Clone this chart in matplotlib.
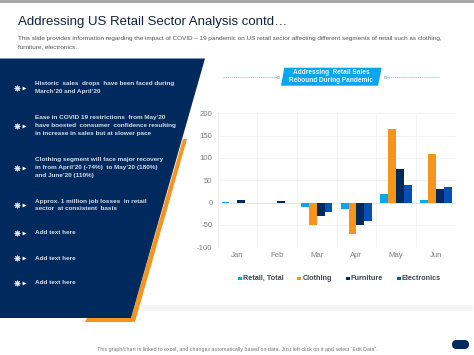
import numpy as np
import matplotlib
matplotlib.use("Agg")
import matplotlib.pyplot as plt
from matplotlib.patches import Polygon, Rectangle, FancyBboxPatch

plt.rcParams['font.family'] = ['Liberation Sans', 'DejaVu Sans']
plt.rcParams['axes.unicode_minus'] = False

months = ['Jan', 'Feb', 'Mar', 'Apr', 'May', 'Jun']
retail_total = [1, 0, -10, -15, 20, 5]
clothing = [0, 0, -50, -70, 165, 110]
furniture = [5, 3, -30, -50, 75, 30]
electronics = [0, 0, -20, -40, 40, 35]
series_names = ['Retail, Total', 'Clothing', 'Furniture', 'Electronics']
series_colors = ['#0AA5EE', '#F7941E', '#002A5E', '#0450B4']
y_ticks = [-100, -50, 0, 50, 100, 150, 200]

title = 'Addressing US Retail Sector Analysis contd…'
subtitle = ['This slide provides information regarding the impact of COVID – 19 pandemic on US retail sector affecting different segments of retail such as clothing,',
            'furniture, electronics.']
bullets = [
    (['Historic  sales  drops  have been faced during', 'March’20 and April’20'], 87.5),
    (['Ease in COVID 19 restrictions  from May’20', 'have boosted  consumer  confidence resulting', 'in increase in sales but at slower pace'], 125.5),
    (['Clothing segment will face major recovery', 'in from April’20 (-74%)  to May’20 (180%)', 'and June’20 (110%)'], 168),
    (['Approx. 1 million job losses  in retail', 'sector  at consistent  basis'], 205),
    (['Add text here'], 233),
    (['Add text here'], 258),
    (['Add text here'], 283),
]
footer = 'This graph/chart is linked to excel, and changes automatically based on data. Just left click on it and select “Edit Data”.'

W, H = 474, 355
fig = plt.figure(figsize=(W / 100, H / 100), dpi=100, facecolor='white')

bg = fig.add_axes([0, 0, 1, 1])
bg.set_xlim(0, W)
bg.set_ylim(H, 0)
bg.axis('off')

NAVY = '#002A5E'
bg.add_patch(Rectangle((0, 0), W, 2.5, color='#A6A6A6', lw=0))
bg.add_patch(Rectangle((142, 304.5), W - 143, 6.5, color='#F5F5F5', lw=0))
bg.add_patch(Polygon([(183, 139), (187, 139), (135, 322), (85, 322), (87, 318), (131, 318)], color='#F7941E', lw=0))
bg.add_patch(Polygon([(0, 58.5), (205, 58.5), (131, 318), (0, 318)], color=NAVY, lw=0))

bg.text(18, 21.5, title, fontsize=9.5, color='#14233C', va='center', ha='left')
for i, line in enumerate(subtitle):
    bg.text(18, 38.5 + i * 8.3, line, fontsize=4.55, color='#555555', va='center', ha='left')

for lines, yc in bullets:
    n = len(lines)
    for i, line in enumerate(lines):
        bg.text(35.5, yc + (i - (n - 1) / 2) * 8.0, line, fontsize=4.55, fontweight='bold',
                color='#D5DCE8', va='center', ha='left')
    bg.plot([16.7], [yc], marker='o', ms=3.2, color='white', mew=0)
    bg.plot([16.7], [yc], marker=(8, 2, 0), ms=4.6, color='#DDE3EE', mew=0.3)
    bg.plot([23.7], [yc], marker='>', ms=2.8, color='white', mew=0)

bg.add_patch(Polygon([(284.3, 67.7), (381.7, 67.7), (378, 85.7), (281, 85.7)], color='#0AA5EE', lw=0))
bg.text(331, 72.5, 'Addressing  Retail Sales', fontsize=4.7, fontweight='bold', color='#E8F6FE', ha='center', va='center')
bg.text(331, 80.5, 'Rebound During Pandemic', fontsize=4.7, fontweight='bold', color='#E8F6FE', ha='center', va='center')
for x0, x1, mx in [(223, 277, 278), (386, 439, 385)]:
    bg.plot([x0, x1], [76.5, 76.5], color='#7FB8C4', lw=0.5, ls=(0, (2, 1)))
    bg.plot([mx], [76.5], marker='o', ms=1.8, mfc='white', mec='#7FB8C4', mew=0.4)

bg.add_patch(FancyBboxPatch((452, 340), 17, 9, boxstyle='round,pad=0,rounding_size=4.5', fc=NAVY, ec='none'))
bg.text(97, 350, footer, fontsize=3.8, color='#777777', va='center', ha='left')

ax_l, ax_r, ax_t, ax_b = 217.5, 455.7, 113.3, 247.3
ax = fig.add_axes([ax_l / W, 1 - ax_b / H, (ax_r - ax_l) / W, (ax_b - ax_t) / H])
ax.patch.set_alpha(0)
x = np.arange(len(months))
bw = 0.198
series = [retail_total, clothing, furniture, electronics]
for i, (vals, c, name) in enumerate(zip(series, series_colors, series_names)):
    ax.bar(x + (i - 1.5) * bw, vals, bw, color=c, label=name, zorder=3)
ax.set_xlim(-0.5, 5.5)
ax.set_ylim(-100, 200)
ax.set_yticks(y_ticks)
ax.set_xticks(x)
ax.set_xticklabels(months)
ax.set_xticks(np.arange(-0.5, 6), minor=True)
ax.grid(True, which='major', axis='y', color='#F2F2F2', lw=0.6, zorder=0)
ax.grid(True, which='minor', axis='x', color='#F2F2F2', lw=0.6, zorder=0)
ax.tick_params(which='both', length=0)
ax.tick_params(axis='both', labelsize=5.6, labelcolor='#7F7F7F')
ax.tick_params(axis='y', pad=3.5)
ax.tick_params(axis='x', pad=3.5)
ax.axhline(0, color='#E3E3E3', lw=0.6, zorder=2)
for s in ax.spines.values():
    s.set_visible(False)

leg_x = [238, 297.5, 346, 397]
for name, c, lx in zip(series_names, series_colors, leg_x):
    bg.add_patch(Rectangle((lx, 276.5), 3.6, 3.6, color=c, lw=0))
    bg.text(lx + 5, 278.3, name, fontsize=5.2, fontweight='bold', color='#3F4650', va='center', ha='left')

fig.savefig('out.png', dpi=100)
